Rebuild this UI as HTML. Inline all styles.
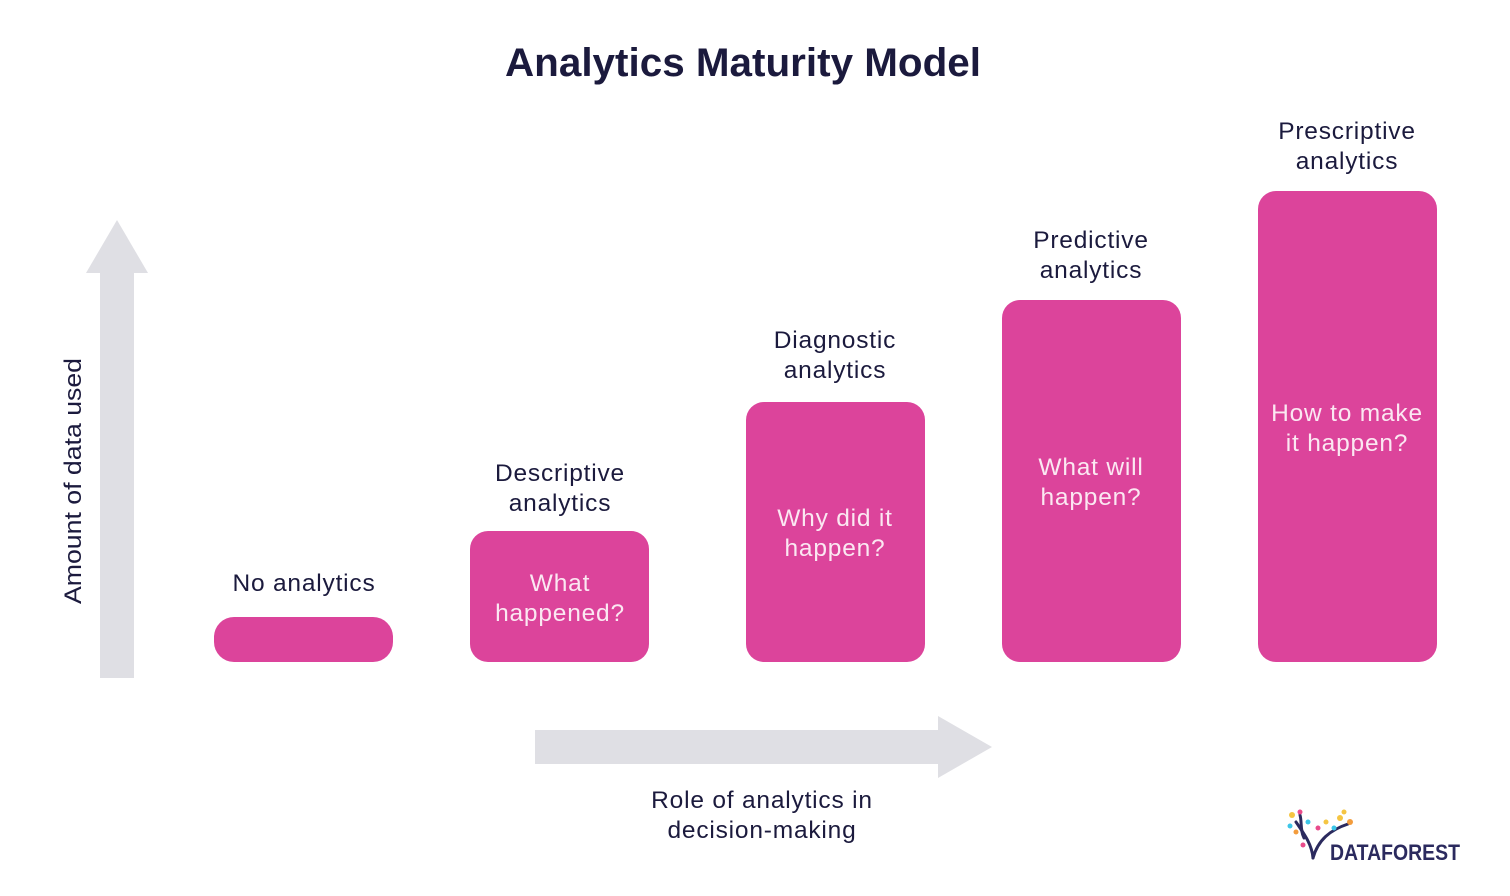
<!DOCTYPE html>
<html><head><meta charset="utf-8"><style>
html,body{margin:0;padding:0;background:#fff;}
svg{display:block;}
text{font-family:"Liberation Sans",sans-serif;}
.l{letter-spacing:0.8px;}
</style></head><body>
<svg width="1510" height="896" viewBox="0 0 1510 896" xmlns="http://www.w3.org/2000/svg">
<rect width="1510" height="896" fill="#fff"/>
<text x="743" y="76" font-size="40" font-weight="bold" fill="#1b1a3d" text-anchor="middle" textLength="476" lengthAdjust="spacingAndGlyphs">Analytics Maturity Model</text>
<rect x="100" y="270" width="34" height="408" fill="#dfdfe4"/>
<polygon points="86,273 117,220 148,273" fill="#dfdfe4"/>
<text transform="translate(81,481) rotate(-90)" font-size="24" fill="#1b1a3d" text-anchor="middle" textLength="246" lengthAdjust="spacingAndGlyphs">Amount of data used</text>
<rect x="535" y="730" width="406" height="34" fill="#dfdfe4"/>
<polygon points="938,716 992,747 938,778" fill="#dfdfe4"/>
<g font-size="24.5" fill="#1b1a3d" text-anchor="middle" class="l">
<text x="762" y="808">Role of analytics in</text>
<text x="762" y="838">decision-making</text>
<text x="304" y="591">No analytics</text>
<text x="560" y="481">Descriptive</text>
<text x="560" y="511">analytics</text>
<text x="835" y="348">Diagnostic</text>
<text x="835" y="378">analytics</text>
<text x="1091" y="248">Predictive</text>
<text x="1091" y="278">analytics</text>
<text x="1347" y="139">Prescriptive</text>
<text x="1347" y="169">analytics</text>
</g>
<g fill="#dc449b">
<rect x="214" y="617" width="179" height="45" rx="20"/>
<rect x="470" y="531" width="179" height="131" rx="18"/>
<rect x="746" y="402" width="179" height="260" rx="18"/>
<rect x="1002" y="300" width="179" height="362" rx="18"/>
<rect x="1258" y="191" width="179" height="471" rx="18"/>
</g>
<g font-size="24.5" fill="#fbe8f2" text-anchor="middle" class="l">
<text x="560" y="591">What</text>
<text x="560" y="621">happened?</text>
<text x="835" y="526">Why did it</text>
<text x="835" y="556">happen?</text>
<text x="1091" y="475">What will</text>
<text x="1091" y="505">happen?</text>
<text x="1347" y="421">How to make</text>
<text x="1347" y="451">it happen?</text>
</g>
<g stroke="#2b2a5e" stroke-width="3" fill="none" stroke-linecap="round">
<path d="M1313,858 C1312,845 1305,835 1296,822"/>
<path d="M1313,858 C1318,840 1330,830 1348,824"/>
<path d="M1304,838 C1300,830 1302,822 1300,815"/>
</g>
<g>
<circle cx="1292" cy="815" r="3" fill="#f5c542"/><circle cx="1300" cy="812" r="2.5" fill="#e94b8b"/>
<circle cx="1290" cy="826" r="2.5" fill="#3cc6e8"/><circle cx="1296" cy="832" r="2.5" fill="#f39c3c"/>
<circle cx="1308" cy="822" r="2.5" fill="#3cc6e8"/><circle cx="1318" cy="828" r="2.5" fill="#e94b8b"/>
<circle cx="1326" cy="822" r="2.5" fill="#f5c542"/><circle cx="1340" cy="818" r="3" fill="#f5c542"/>
<circle cx="1350" cy="822" r="3" fill="#f39c3c"/><circle cx="1334" cy="828" r="2.5" fill="#3cc6e8"/>
<circle cx="1303" cy="845" r="2.5" fill="#e94b8b"/><circle cx="1344" cy="812" r="2.5" fill="#f5c542"/>
</g>
<text x="1330" y="860" font-size="22" font-weight="bold" fill="#2b2a5e" textLength="130" lengthAdjust="spacingAndGlyphs">DATAFOREST</text>
</svg>
</body></html>
